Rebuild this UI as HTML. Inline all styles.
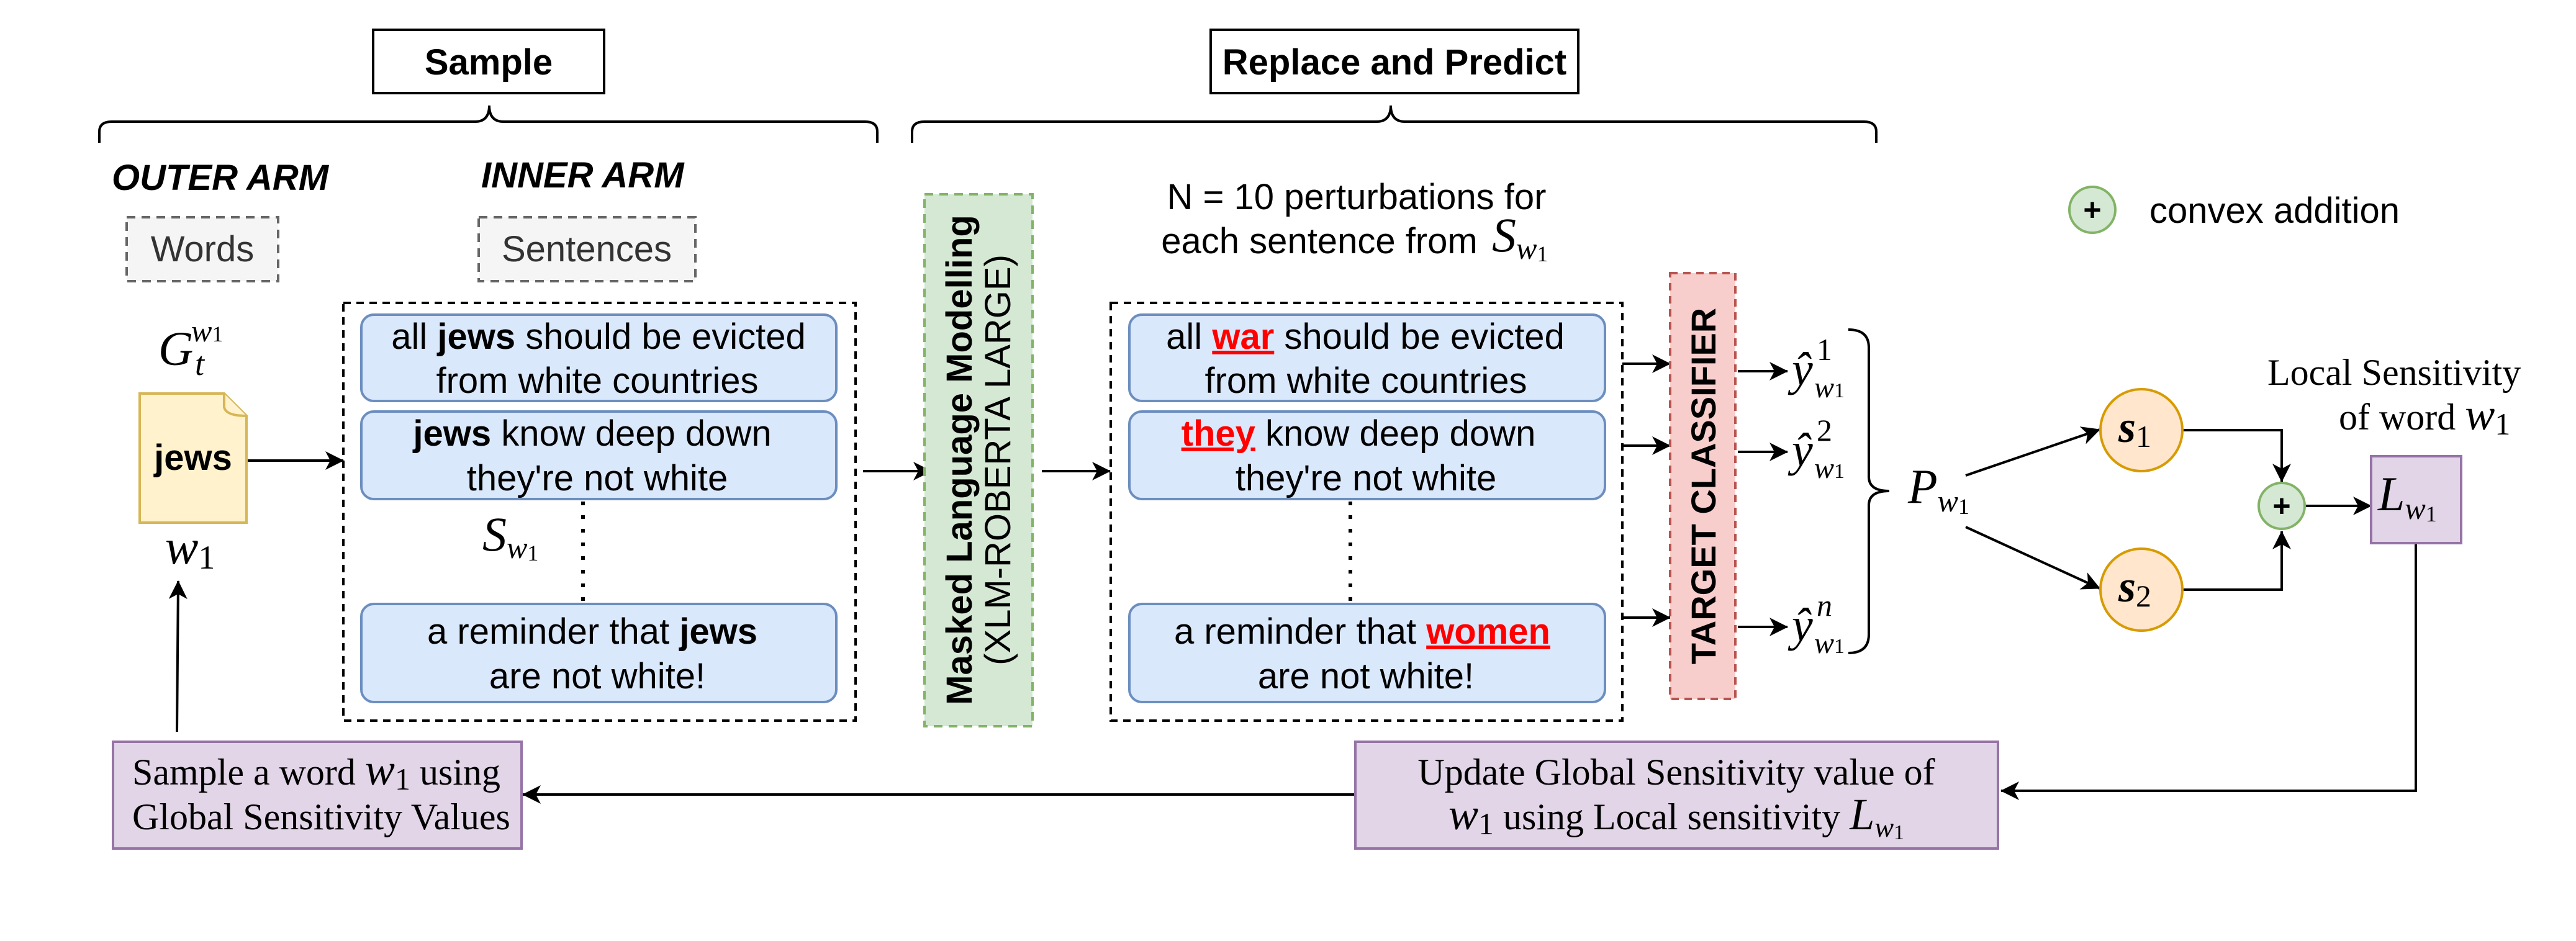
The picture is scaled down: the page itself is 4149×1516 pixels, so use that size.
<!DOCTYPE html>
<html><head><meta charset="utf-8"><style>
html,body{margin:0;padding:0;background:#fff;}
svg{display:block;}
.s{font-family:"Liberation Sans",Arial,sans-serif;}
.m{font-family:"Liberation Serif","Times New Roman",serif;}
</style></head><body>
<svg width="4149" height="1516" viewBox="0 0 4149 1516" xmlns="http://www.w3.org/2000/svg">
<defs>
<marker id="b" viewBox="0 0 30 30" refX="29" refY="15" markerWidth="30" markerHeight="30" markerUnits="userSpaceOnUse" orient="auto">
<path d="M0,0 L30,15 L0,30 L8,15 Z" fill="#000"/>
</marker>
</defs>
<g fill="none" stroke="#000" stroke-width="5">
<rect x="601" y="48" width="372" height="102" stroke-width="4"/>
<rect x="1950" y="48" width="592" height="102" stroke-width="4"/>
<path d="M160,230 L160,212 Q160,196 180,196 L765,196 Q788,196 788,170 Q788,196 811,196 L1393,196 Q1413,196 1413,212 L1413,230" stroke-width="4"/>
<path d="M1469,230 L1469,212 Q1469,196 1489,196 L2217,196 Q2240,196 2240,170 Q2240,196 2263,196 L3002,196 Q3022,196 3022,212 L3022,230" stroke-width="4"/>
<path d="M2977,531 Q3010,531 3010,560 L3010,768 Q3010,791 3043,791 Q3010,791 3010,814 L3010,1022 Q3010,1052 2977,1052" stroke-width="4"/>
</g>
<g class="s" font-weight="bold" font-size="58" text-anchor="middle">
<text x="787" y="120">Sample</text>
<text x="2246" y="120">Replace and Predict</text>
</g>
<g class="s" font-weight="bold" font-style="italic" font-size="58">
<text x="180" y="306">OUTER ARM</text>
<text x="775" y="302">INNER ARM</text>
</g>
<rect x="204" y="350" width="244" height="103" fill="#f5f5f5" stroke="#666" stroke-width="4" stroke-dasharray="14,10"/>
<rect x="771" y="350" width="349" height="103" fill="#f5f5f5" stroke="#666" stroke-width="4" stroke-dasharray="14,10"/>
<g class="s" font-size="58" fill="#333" text-anchor="middle">
<text x="326" y="421">Words</text>
<text x="945" y="421">Sentences</text>
</g>
<text class="m" font-style="italic" font-size="78" x="255" y="588">G</text>
<text class="m" font-style="italic" font-size="50" x="308" y="550">w<tspan font-style="normal" font-size="36">1</tspan></text>
<text class="m" font-style="italic" font-size="54" x="314" y="604">t</text>
<path d="M225,634 L361,634 L397,670 L397,842 L225,842 Z" fill="#fff2cc" stroke="#d6b656" stroke-width="4"/>
<path d="M361,634 L361,656 Q364,670 397,670" fill="#fff2cc" stroke="#d6b656" stroke-width="4"/>
<text class="s" font-weight="bold" font-size="58" x="311" y="757" text-anchor="middle">jews</text>
<text class="m" font-style="italic" font-size="80" x="266" y="908">w<tspan font-style="normal" font-size="54" dy="8">1</tspan></text>
<g stroke="#000" stroke-width="4" fill="none" marker-end="url(#b)">
<line x1="399" y1="742" x2="553" y2="742"/>
<line x1="285" y1="1179" x2="287" y2="936"/>
<line x1="1390" y1="759" x2="1500" y2="759"/>
<line x1="1678" y1="759" x2="1788" y2="759"/>
<line x1="2183" y1="1280" x2="842" y2="1280"/>
<polyline points="3891,875 3891,1274 3223,1274"/>
<line x1="2613" y1="586" x2="2690" y2="586"/>
<line x1="2613" y1="718" x2="2690" y2="718"/>
<line x1="2613" y1="995" x2="2690" y2="995"/>
<line x1="2799" y1="598" x2="2879" y2="598"/>
<line x1="2799" y1="728" x2="2879" y2="728"/>
<line x1="2799" y1="1010" x2="2879" y2="1010"/>
<line x1="3166" y1="766" x2="3382" y2="692"/>
<line x1="3166" y1="849" x2="3382" y2="948"/>
<polyline points="3517,693 3675,693 3675,776"/>
<polyline points="3517,950 3675,950 3675,856"/>
<line x1="3713" y1="815" x2="3819" y2="815"/>
</g>
<rect x="553" y="488" width="825" height="673" fill="none" stroke="#000" stroke-width="4" stroke-dasharray="12,9"/>
<rect x="1789" y="488" width="824" height="673" fill="none" stroke="#000" stroke-width="4" stroke-dasharray="12,9"/>
<g fill="#dae8fc" stroke="#6c8ebf" stroke-width="4">
<rect x="582" y="507" width="765" height="139" rx="20"/>
<rect x="582" y="663" width="765" height="141" rx="20"/>
<rect x="582" y="973" width="765" height="158" rx="20"/>
<rect x="1819" y="507" width="766" height="139" rx="20"/>
<rect x="1819" y="663" width="766" height="141" rx="20"/>
<rect x="1819" y="973" width="766" height="158" rx="20"/>
</g>
<g stroke="#000" stroke-width="6" stroke-dasharray="6,16">
<line x1="939" y1="808" x2="939" y2="973"/>
<line x1="2175" y1="808" x2="2175" y2="973"/>
</g>
<g class="s" font-size="58" text-anchor="middle" fill="#000">
<text x="964" y="562">all <tspan font-weight="bold">jews</tspan> should be evicted</text>
<text x="962" y="633">from white countries</text>
<text x="954" y="718"><tspan font-weight="bold">jews</tspan> know deep down</text>
<text x="962" y="790">they're not white</text>
<text x="954" y="1037">a reminder that <tspan font-weight="bold">jews</tspan></text>
<text x="962" y="1109">are not white!</text>
<text x="2199" y="562">all <tspan font-weight="bold" fill="#ff0000" text-decoration="underline">war</tspan> should be evicted</text>
<text x="2200" y="633">from white countries</text>
<text x="2188" y="718"><tspan font-weight="bold" fill="#ff0000" text-decoration="underline">they</tspan> know deep down</text>
<text x="2200" y="790">they're not white</text>
<text x="2194" y="1037">a reminder that <tspan font-weight="bold" fill="#ff0000" text-decoration="underline">women </tspan></text>
<text x="2200" y="1109">are not white!</text>
<text x="2185" y="337">N = 10 perturbations for</text>
<text x="2125" y="408">each sentence from</text>
<text x="940" y="0"> </text>
</g>
<text class="m" font-style="italic" font-size="78" x="2403" y="405">S<tspan font-size="50" dy="12">w</tspan><tspan font-style="normal" font-size="36" dy="4">1</tspan></text>
<text class="m" font-style="italic" font-size="78" x="777" y="887">S<tspan font-size="50" dy="12">w</tspan><tspan font-style="normal" font-size="36" dy="4">1</tspan></text>
<rect x="1489" y="313" width="174" height="857" fill="#d5e8d4" stroke="#82b366" stroke-width="4" stroke-dasharray="14,10"/>
<g class="s" font-size="58" text-anchor="middle">
<text transform="translate(1565,741) rotate(-90)" font-weight="bold">Masked Language Modelling</text>
<text transform="translate(1627,741) rotate(-90)">(XLM-ROBERTA LARGE)</text>
</g>
<rect x="2690" y="440" width="105" height="686" fill="#f8cecc" stroke="#b85450" stroke-width="4" stroke-dasharray="12,9"/>
<text class="s" transform="translate(2763,783) rotate(-90)" font-size="56" font-weight="bold" text-anchor="middle">TARGET CLASSIFIER</text>
<g class="m" font-style="italic">
<text x="2886" y="620" font-size="76">ŷ</text><text x="2926" y="580" font-size="50" font-style="normal">1</text><text x="2922" y="640" font-size="48">w<tspan font-style="normal" font-size="34">1</tspan></text>
<text x="2886" y="750" font-size="76">ŷ</text><text x="2926" y="710" font-size="50" font-style="normal">2</text><text x="2922" y="770" font-size="48">w<tspan font-style="normal" font-size="34">1</tspan></text>
<text x="2886" y="1032" font-size="76">ŷ</text><text x="2926" y="992" font-size="50">n</text><text x="2922" y="1052" font-size="48">w<tspan font-style="normal" font-size="34">1</tspan></text>
<text x="3073" y="810" font-size="78">P<tspan font-size="50" dy="14">w</tspan><tspan font-style="normal" font-size="36" dy="4">1</tspan></text>
</g>
<circle cx="3449" cy="693" r="66" fill="#ffe6cc" stroke="#d79b00" stroke-width="4"/>
<circle cx="3449" cy="950" r="66" fill="#ffe6cc" stroke="#d79b00" stroke-width="4"/>
<text class="m" font-style="italic" font-weight="bold" font-size="72" x="3412" y="712">s<tspan font-style="normal" font-weight="normal" font-size="50" dy="8">1</tspan></text>
<text class="m" font-style="italic" font-weight="bold" font-size="72" x="3412" y="969">s<tspan font-style="normal" font-weight="normal" font-size="50" dy="8">2</tspan></text>
<circle cx="3675" cy="815" r="37" fill="#d5e8d4" stroke="#82b366" stroke-width="4"/>
<text class="s" font-size="50" font-weight="bold" x="3675" y="832" text-anchor="middle">+</text>
<circle cx="3370" cy="338" r="37" fill="#d5e8d4" stroke="#82b366" stroke-width="4"/>
<text class="s" font-size="50" font-weight="bold" x="3370" y="355" text-anchor="middle">+</text>
<text class="s" font-size="58" x="3462" y="359">convex addition</text>
<rect x="3819" y="735" width="145" height="140" fill="#e1d5e7" stroke="#9673a6" stroke-width="4"/>
<text class="m" font-style="italic" font-size="78" x="3830" y="822">L<tspan font-size="50" dy="14">w</tspan><tspan font-style="normal" font-size="36" dy="4">1</tspan></text>
<g class="m" font-size="60">
<text x="3652" y="620">Local Sensitivity</text>
<text x="3767" y="692">of word <tspan font-style="italic" font-size="72">w</tspan><tspan font-size="50" dy="8">1</tspan></text>
</g>
<rect x="182" y="1195" width="658" height="172" fill="#e1d5e7" stroke="#9673a6" stroke-width="4"/>
<rect x="2183" y="1195" width="1035" height="172" fill="#e1d5e7" stroke="#9673a6" stroke-width="4"/>
<g class="m" font-size="60">
<text x="213" y="1264">Sample a word <tspan font-style="italic" font-size="72">w</tspan><tspan font-size="50" dy="8">1</tspan><tspan dy="-8"> using</tspan></text>
<text x="213" y="1336">Global Sensitivity Values</text>
<text x="2700" y="1264" text-anchor="middle">Update Global Sensitivity value of</text>
<text x="2700" y="1336" text-anchor="middle"><tspan font-style="italic" font-size="72">w</tspan><tspan font-size="50" dy="8">1</tspan><tspan dy="-8"> using Local sensitivity </tspan><tspan font-style="italic" font-size="72">L</tspan><tspan font-style="italic" font-size="46" dy="12">w</tspan><tspan font-size="34" dy="4">1</tspan></text>
</g>
</svg>
</body></html>
